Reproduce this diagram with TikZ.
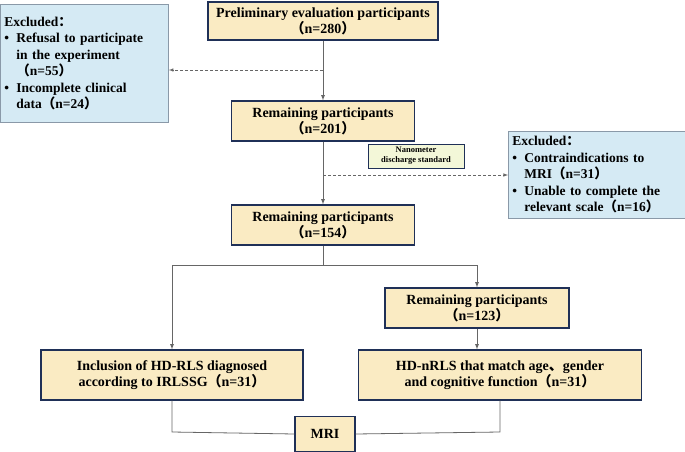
\documentclass[tikz,border=0pt]{standalone}
\usepackage{fontspec}
\setmainfont{Liberation Serif}
\newfontfamily\cjk{Noto Sans CJK SC}
\usetikzlibrary{positioning}
\definecolor{boxFill}{HTML}{FAEBC3}
\definecolor{boxLine}{HTML}{1F3057}
\definecolor{exFill}{HTML}{D5EAF4}
\definecolor{exLine}{HTML}{8A99A8}
\definecolor{stdFill}{HTML}{F3F7D8}
\newcommand{\lpar}{{\cjk （}}
\newcommand{\rpar}{{\cjk ）}}
\tikzset{
	stage/.style={rectangle, draw=boxLine, line width=1.2pt, fill=boxFill, align=center, font=\bfseries\fontsize{14}{16}\selectfont, inner sep=2pt},
	excl/.style={rectangle, draw=exLine, line width=0.8pt, fill=exFill, align=left, anchor=north west, font=\bfseries\fontsize{13.5}{16.5}\selectfont, inner sep=3pt},
	flow/.style={draw=gray!80!black, line width=0.8pt, -latex},
	side/.style={draw=gray!80!black, densely dashed, line width=0.6pt, -latex}
}
\begin{document}
\begin{tikzpicture}[x=1pt,y=-1pt]
	\useasboundingbox (0,0) rectangle (685,452);

	\node[stage, minimum width=230pt, minimum height=38pt](prelim) at (323,21){Preliminary evaluation participants\\\lpar n=280\rpar};
	\node[stage, minimum width=183pt, minimum height=40pt](rem201) at (323,121){Remaining participants\\\lpar n=201\rpar};
	\node[stage, minimum width=183pt, minimum height=40pt](rem154) at (323,225){Remaining participants\\\lpar n=154\rpar};
	\node[stage, minimum width=184pt, minimum height=40pt](rem123) at (477,308){Remaining participants\\\lpar n=123\rpar};
	\node[stage, minimum width=262pt, minimum height=50pt](incl) at (172,375){Inclusion of HD-RLS diagnosed\\according to IRLSSG\lpar n=31\rpar};
	\node[stage, minimum width=283pt, minimum height=50pt](ctrl) at (500,375){HD-nRLS that match age{\cjk 、}gender\\and cognitive function\lpar n=31\rpar};
	\node[stage, minimum width=60pt, minimum height=35pt](mri) at (325,434){MRI};

	\node[excl, minimum width=168pt, minimum height=118pt, text width=160pt](exA) at (0,4){Excluded{\cjk ：}\\
		\makebox[12pt][l]{•}Refusal to participate\\\hspace*{12pt}in the experiment\\\hspace*{12pt}\lpar n=55\rpar\\
		\makebox[12pt][l]{•}Incomplete clinical\\\hspace*{12pt}data\lpar n=24\rpar};
	\node[excl, minimum width=177pt, minimum height=87pt, text width=169pt](exB) at (508,131){Excluded{\cjk ：}\\
		\makebox[12pt][l]{•}Contraindications to\\\hspace*{12pt}MRI\lpar n=31\rpar\\
		\makebox[12pt][l]{•}Unable to complete the\\\hspace*{12pt}relevant scale\lpar n=16\rpar};
	\node[rectangle, draw=boxLine, line width=1pt, fill=stdFill, align=center, font=\bfseries\fontsize{8.5}{10}\selectfont, minimum width=96pt, minimum height=24pt, inner sep=1pt](nano) at (416,156){Nanometer\\discharge standard};

	\coordinate (cutA) at (323,70);
	\coordinate (cutB) at (323,175);
	\coordinate (split) at (323,265);
	\coordinate (splitL) at (172,265);
	\coordinate (splitR) at (477,265);
	\coordinate (joinL) at (172,432);
	\coordinate (joinR) at (500,432);

	\draw[flow] (prelim) -- (rem201);
	\draw[side] (cutA) -- (exA.east |- cutA);
	\draw[flow] (rem201) -- (rem154);
	\draw[side] (cutB) -- (exB.west |- cutB);
	\draw[draw=gray!80!black, line width=0.8pt] (rem154) -- (split) (splitL) -- (splitR);
	\draw[flow] (splitL) -- (incl);
	\draw[flow] (splitR) -- (rem123);
	\draw[flow] (rem123) -- (rem123 |- ctrl.north);
	\draw[draw=gray!80!black, line width=0.8pt] (incl) -- (joinL) -- (mri.west);
	\draw[draw=gray!80!black, line width=0.8pt] (ctrl) -- (joinR) -- (mri.east);
\end{tikzpicture}
\end{document}
